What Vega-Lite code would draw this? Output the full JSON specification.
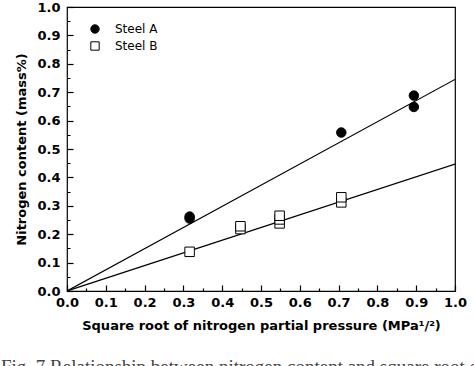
{
  "$schema": "https://vega.github.io/schema/vega-lite/v6.json",
  "width": 388,
  "height": 284,
  "autosize": "none",
  "padding": {"left": 67, "top": 7, "right": 19, "bottom": 75},
  "background": "white",
  "config": {
    "view": {"stroke": "black", "strokeWidth": 1.2},
    "font": "DejaVu Sans"
  },
  "datasets": {
    "pts": [
      {"steel": "Steel A", "x": 0.316, "y": 0.262},
      {"steel": "Steel A", "x": 0.316, "y": 0.255},
      {"steel": "Steel A", "x": 0.707, "y": 0.558},
      {"steel": "Steel A", "x": 0.894, "y": 0.688},
      {"steel": "Steel A", "x": 0.894, "y": 0.648},
      {"steel": "Steel B", "x": 0.316, "y": 0.138},
      {"steel": "Steel B", "x": 0.447, "y": 0.218},
      {"steel": "Steel B", "x": 0.447, "y": 0.228},
      {"steel": "Steel B", "x": 0.548, "y": 0.238},
      {"steel": "Steel B", "x": 0.548, "y": 0.252},
      {"steel": "Steel B", "x": 0.548, "y": 0.265},
      {"steel": "Steel B", "x": 0.707, "y": 0.312},
      {"steel": "Steel B", "x": 0.707, "y": 0.33}
    ],
    "fit": [
      {"steel": "Steel A", "x": 0, "y": 0},
      {"steel": "Steel A", "x": 1.0, "y": 0.745},
      {"steel": "Steel B", "x": 0, "y": 0},
      {"steel": "Steel B", "x": 1.0, "y": 0.447}
    ]
  },
  "title": {
    "text": "Fig. 7  Relationship between nitrogen content and square root of nitrogen partial pressure",
    "orient": "bottom",
    "anchor": "start",
    "font": "Liberation Serif",
    "fontSize": 19,
    "fontWeight": "normal",
    "color": "#444",
    "offset": 26,
    "dx": -15
  },
  "encoding": {
    "x": {
      "field": "x", "type": "quantitative",
      "scale": {"domain": [0, 1], "nice": false, "zero": false},
      "axis": {
        "title": "Square root of nitrogen partial pressure (MPa¹/²)",
        "values": [0,0.05,0.1,0.15,0.2,0.25,0.3,0.35,0.4,0.45,0.5,0.55,0.6,0.65,0.7,0.75,0.8,0.85,0.9,0.95,1.0],
        "labelExpr": "round(datum.value*100)%10==0 ? format(datum.value,'.1f') : ''",
        "labelOverlap": false,
        "offset": -6,
        "domain": false,
        "ticks": true,
        "tickColor": "black",
        "tickWidth": 1.2,
        "tickSize": 6,
        "tickDash": {"condition": {"test": "round(datum.value*100)%10==0", "value": []}, "value": [0, 3, 3, 0]},
        "labelColor": "black",
        "titleColor": "black",
        "labelFontWeight": "bold",
        "labelFontSize": 13,
        "titleFontWeight": "bold",
        "titleFontSize": 13,
        "grid": false,
        "labelPadding": 5,
        "titlePadding": 10,
        "labelFlush": false
      }
    },
    "y": {
      "field": "y", "type": "quantitative",
      "scale": {"domain": [0, 1], "nice": false, "zero": false},
      "axis": {
        "title": "Nitrogen content (mass%)",
        "values": [0,0.05,0.1,0.15,0.2,0.25,0.3,0.35,0.4,0.45,0.5,0.55,0.6,0.65,0.7,0.75,0.8,0.85,0.9,0.95,1.0],
        "labelExpr": "round(datum.value*100)%10==0 ? format(datum.value,'.1f') : ''",
        "labelOverlap": false,
        "offset": -6,
        "domain": false,
        "ticks": true,
        "tickColor": "black",
        "tickWidth": 1.2,
        "tickSize": 6,
        "tickDash": {"condition": {"test": "round(datum.value*100)%10==0", "value": []}, "value": [0, 3, 3, 0]},
        "labelColor": "black",
        "titleColor": "black",
        "labelFontWeight": "bold",
        "labelFontSize": 13,
        "titleFontWeight": "bold",
        "titleFontSize": 13,
        "grid": false,
        "labelPadding": 7,
        "titlePadding": 8,
        "labelFlush": false
      }
    }
  },
  "layer": [
    {
      "data": {"name": "fit"},
      "mark": {"type": "line", "color": "black", "strokeWidth": 1.2, "clip": true},
      "encoding": {
        "detail": {"field": "steel"}
      }
    },
    {
      "data": {"name": "pts"},
      "mark": {"type": "point", "stroke": "black", "strokeWidth": 1, "opacity": 1, "size": 90, "filled": false},
      "encoding": {
        "stroke": {"value": "black"},
        "shape": {
          "field": "steel", "type": "nominal",
          "scale": {"domain": ["Steel A", "Steel B"], "range": ["circle", "square"]},
          "legend": {
            "title": null, "orient": "none", "legendX": 22, "legendY": 16,
            "labelFontSize": 12, "labelFont": "DejaVu Sans", "labelColor": "black",
            "symbolSize": 70, "symbolStrokeColor": "black", "symbolStrokeWidth": 1, "symbolOpacity": 1, "rowPadding": 3, "labelOffset": 14,
            "encode": {"symbols": {"update": {"stroke": {"value": "black"}, "strokeWidth": {"value": 1}, "opacity": {"value": 1}, "strokeOpacity": {"value": 1}}}}
          }
        },
        "fill": {
          "field": "steel", "type": "nominal",
          "scale": {"domain": ["Steel A", "Steel B"], "range": ["black", "white"]},
          "legend": {
            "title": null, "orient": "none", "legendX": 22, "legendY": 16,
            "labelFontSize": 12, "labelFont": "DejaVu Sans", "labelColor": "black",
            "symbolSize": 70, "symbolStrokeColor": "black", "symbolStrokeWidth": 1, "symbolOpacity": 1, "rowPadding": 3, "labelOffset": 14,
            "encode": {"symbols": {"update": {"stroke": {"value": "black"}, "strokeWidth": {"value": 1}, "opacity": {"value": 1}, "strokeOpacity": {"value": 1}}}}
          }
        }
      }
    }
  ]
}
